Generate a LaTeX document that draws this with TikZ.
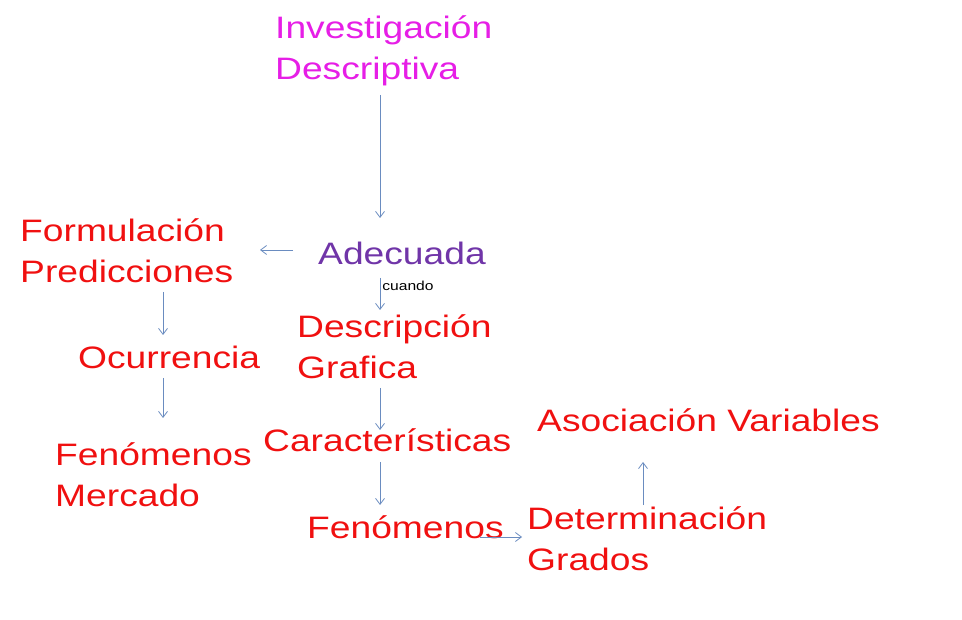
\documentclass[tikz,border=0pt]{standalone}
\usepackage{fontspec}
\setmainfont{Liberation Sans}[FakeStretch=1.2]
\usetikzlibrary{arrows.meta}
\definecolor{mag}{HTML}{E61EE6}
\definecolor{pur}{HTML}{7035A8}
\definecolor{rd}{HTML}{F01010}
\definecolor{ar}{HTML}{6A8CC0}
\begin{document}
\begin{tikzpicture}[x=1pt,y=-1pt,
  lbl/.style={anchor=west,align=left,inner sep=0pt,font=\fontsize{31}{41}\selectfont},
  conn/.style={draw=ar,line width=0.8pt,-{Straight Barb[length=6pt,width=9pt]}}]
\useasboundingbox (0,0) rectangle (962,620);
\node[lbl,text=mag] (inv) at (275,51) {Investigación\\Descriptiva};
\node[lbl,text=pur] (ade) at (318,253) {Adecuada};
\node[lbl,text=rd] (for) at (20,251) {Formulación\\Predicciones};
\node[inner sep=0pt,font=\fontsize{13}{15}\selectfont] (cua) at (408,286) {cuando};
\node[lbl,text=rd] (des) at (297,347) {Descripción\\Grafica};
\node[lbl,text=rd] (car) at (263,440) {Características};
\node[lbl,text=rd] (fen) at (307,527) {Fenómenos};
\node[lbl,text=rd] (det) at (527,539) {Determinación\\Grados};
\node[lbl,text=rd] (aso) at (537,420) {Asociación Variables};
\node[lbl,text=rd] (ocu) at (78,357) {Ocurrencia};
\node[lbl,text=rd] (fme) at (55,475) {Fenómenos\\Mercado};
\coordinate (a1) at (380,95); \coordinate (a2) at (380,218);
\draw[conn] (a1) -- (a2);
\coordinate (b1) at (293,250); \coordinate (b2) at (260,250);
\draw[conn] (b1) -- (b2);
\coordinate (c1) at (380,278); \coordinate (c2) at (380,310);
\draw[conn] (c1) -- (c2);
\coordinate (d1) at (380,388); \coordinate (d2) at (380,430);
\draw[conn] (d1) -- (d2);
\coordinate (e1) at (380,462); \coordinate (e2) at (380,505);
\draw[conn] (e1) -- (e2);
\coordinate (f1) at (480,537); \coordinate (f2) at (522,537);
\draw[conn] (f1) -- (f2);
\coordinate (g1) at (643,505); \coordinate (g2) at (643,462);
\draw[conn] (g1) -- (g2);
\coordinate (h1) at (163,292); \coordinate (h2) at (163,335);
\draw[conn] (h1) -- (h2);
\coordinate (i1) at (163,378); \coordinate (i2) at (163,418);
\draw[conn] (i1) -- (i2);
\end{tikzpicture}
\end{document}
